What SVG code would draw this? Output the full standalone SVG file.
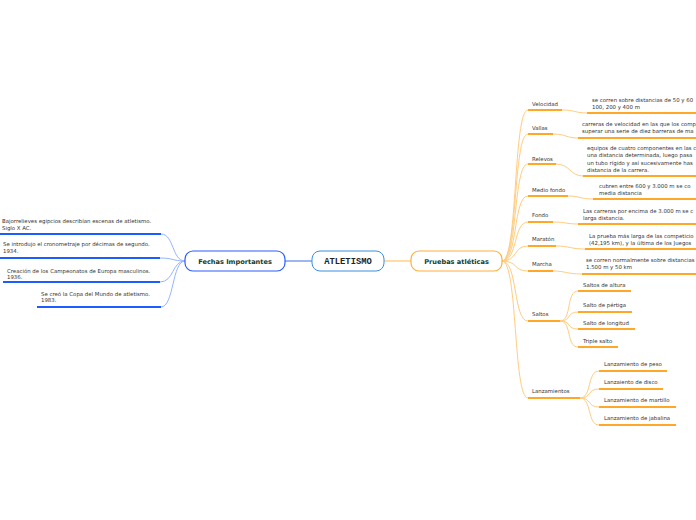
<svg xmlns="http://www.w3.org/2000/svg" width="696" height="520" viewBox="0 0 696 520">
<style>
.t{font-family:"DejaVu Sans",Verdana,sans-serif;font-size:5.4px;fill:#333}
.n{font-family:"DejaVu Sans",Verdana,sans-serif;font-size:6.6px;font-weight:bold;fill:#0f3d2e;text-anchor:middle}
.ou{stroke:#ffa726;stroke-width:2;fill:none}
.oc{stroke:#ffcc80;stroke-width:1;fill:none}
.bu{stroke:#1f5cff;stroke-width:2;fill:none}
.bc{stroke:#94b4ff;stroke-width:1;fill:none}
</style>
<rect width="696" height="520" fill="#fff"/>
<g id="connectors">
<line x1="285" y1="261" x2="312" y2="261" stroke="#3b6fe0" stroke-width="1"/>
<line x1="384" y1="261" x2="411" y2="261" stroke="#ffb84d" stroke-width="1"/>
<path class="bc" d="M185,261 C172,261 174,234 161,234"/>
<path class="bc" d="M185,261 C172,261 174,258 160,258"/>
<path class="bc" d="M185,261 C172,261 174,282 160,282"/>
<path class="bc" d="M185,261 C172,261 174,307 161,307"/>
<path class="oc" d="M502,261 C518,261 513,110 528,110"/>
<path class="oc" d="M502,261 C518,261 513,134 528,134"/>
<path class="oc" d="M502,261 C518,261 513,164 528,164"/>
<path class="oc" d="M502,261 C518,261 513,196 528,196"/>
<path class="oc" d="M502,261 C518,261 513,222 528,222"/>
<path class="oc" d="M502,261 C518,261 513,246 528,246"/>
<path class="oc" d="M502,261 C518,261 513,271 528,271"/>
<path class="oc" d="M502,261 C518,261 513,321 528,321"/>
<path class="oc" d="M502,261 C518,261 513,398 528,398"/>
<path class="oc" d="M562,110 C575,110 575,113 587,113"/>
<path class="oc" d="M553,134 C566,134 566,138 578,138"/>
<path class="oc" d="M556,164 C570,164 570,176 583,176"/>
<path class="oc" d="M568,196 C580,196 580,199 593,199"/>
<path class="oc" d="M553,222 C566,222 566,224 578,224"/>
<path class="oc" d="M556,246 C570,246 570,249 585,249"/>
<path class="oc" d="M553,271 C566,271 566,274 582,274"/>
<path class="oc" d="M560,321 C572,321 566,291 578,291"/>
<path class="oc" d="M560,321 C572,321 566,312 578,312"/>
<path class="oc" d="M560,321 C572,321 566,329 578,329"/>
<path class="oc" d="M560,321 C572,321 566,347 578,347"/>
<path class="oc" d="M580,398 C592,398 587,371 599,371"/>
<path class="oc" d="M580,398 C592,398 587,389 599,389"/>
<path class="oc" d="M580,398 C592,398 587,407 599,407"/>
<path class="oc" d="M580,398 C592,398 587,425 599,425"/>
</g>
<g id="atletismo">
<rect x="312" y="251" width="72" height="20" rx="8" fill="#fff" stroke="#3b8ee0" stroke-width="1"/>
<text x="348" y="264" font-family="'Liberation Mono','Courier New',monospace" font-size="8.8" font-weight="bold" fill="#222" text-anchor="middle">ATLETISMO</text>
</g>
<g id="fechas">
<rect x="185" y="251" width="100" height="20" rx="8" fill="#fff" stroke="#2a5cff" stroke-width="1.2"/>
<text class="n" x="235" y="263.5">Fechas Importantes</text>
</g>
<g id="pruebas">
<rect x="411" y="251" width="91" height="20" rx="8" fill="#fff" stroke="#ffb03a" stroke-width="1.2"/>
<text class="n" x="456.5" y="263.5">Pruebas atléticas</text>
</g>
<g id="f1"><text class="t" x="2" y="223">Bajorrelieves egipcios describían escenas de atletismo.</text><text class="t" x="2" y="229.5">Siglo X AC.</text><path class="bu" d="M0,234 H161"/></g>
<g id="f2"><text class="t" x="3" y="246">Se introdujo el cronometraje por décimas de segundo.</text><text class="t" x="3" y="253">1934.</text><path class="bu" d="M0,258 H160"/></g>
<g id="f3"><text class="t" x="7" y="272.5">Creación de los Campeonatos de Europa masculinos.</text><text class="t" x="7" y="278.5">1936.</text><path class="bu" d="M3,282 H160"/></g>
<g id="f4"><text class="t" x="41" y="295.5">Se creó la Copa del Mundo de atletismo.</text><text class="t" x="41" y="302">1983.</text><path class="bu" d="M37,307 H161"/></g>
<g id="velocidad"><text class="t" x="532" y="106">Velocidad</text><path class="ou" d="M528,110 H562"/></g>
<g id="velocidad-d"><text class="t" x="592" y="102">se corren sobre distancias de 50 y 60</text><text class="t" x="592" y="109">100, 200 y 400 m</text><path class="ou" d="M587,113 H696"/></g>
<g id="vallas"><text class="t" x="532" y="130">Vallas</text><path class="ou" d="M528,134 H553"/></g>
<g id="vallas-d"><text class="t" x="582" y="126">carreras de velocidad en las que los comp</text><text class="t" x="582" y="133">superar una serie de diez barreras de ma</text><path class="ou" d="M578,138 H696"/></g>
<g id="relevos"><text class="t" x="532" y="161">Relevos</text><path class="ou" d="M528,164 H556"/></g>
<g id="relevos-d"><text class="t" x="587" y="150">equipos de cuatro componentes en las c</text><text class="t" x="587" y="157">una distancia determinada, luego pasa</text><text class="t" x="587" y="164.5">un tubo rígido y así sucesivamente has</text><text class="t" x="587" y="172">distancia de la carrera.</text><path class="ou" d="M583,176 H696"/></g>
<g id="mediofondo"><text class="t" x="532" y="192">Medio fondo</text><path class="ou" d="M528,196 H568"/></g>
<g id="mediofondo-d"><text class="t" x="599" y="188">cubren entre 600 y 3.000 m se co</text><text class="t" x="599" y="195">media distancia</text><path class="ou" d="M593,199 H696"/></g>
<g id="fondo"><text class="t" x="532" y="217">Fondo</text><path class="ou" d="M528,222 H553"/></g>
<g id="fondo-d"><text class="t" x="583" y="213">Las carreras por encima de 3.000 m se c</text><text class="t" x="583" y="220">larga distancia.</text><path class="ou" d="M578,224 H696"/></g>
<g id="maraton"><text class="t" x="532" y="241">Maratón</text><path class="ou" d="M528,246 H556"/></g>
<g id="maraton-d"><text class="t" x="589" y="238">La prueba más larga de las competicio</text><text class="t" x="589" y="245">(42,195 km), y la última de los Juegos</text><path class="ou" d="M585,249 H696"/></g>
<g id="marcha"><text class="t" x="532" y="266">Marcha</text><path class="ou" d="M528,271 H553"/></g>
<g id="marcha-d"><text class="t" x="586" y="262">se corren normalmente sobre distancias</text><text class="t" x="586" y="269">1.500 m y 50 km</text><path class="ou" d="M582,274 H696"/></g>
<g id="saltos"><text class="t" x="532" y="316">Saltos</text><path class="ou" d="M528,321 H560"/></g>
<g id="s1"><text class="t" x="583" y="287">Saltos de altura</text><path class="ou" d="M578,291 H631"/></g>
<g id="s2"><text class="t" x="583" y="307">Salto de pértiga</text><path class="ou" d="M578,312 H632"/></g>
<g id="s3"><text class="t" x="583" y="325">Salto de longitud</text><path class="ou" d="M578,329 H635"/></g>
<g id="s4"><text class="t" x="583" y="343">Triple salto</text><path class="ou" d="M578,347 H618"/></g>
<g id="lanzamientos"><text class="t" x="532" y="393">Lanzamientos</text><path class="ou" d="M528,398 H580"/></g>
<g id="l1"><text class="t" x="604" y="366">Lanzamiento de peso</text><path class="ou" d="M599,371 H667"/></g>
<g id="l2"><text class="t" x="604" y="384">Lanzaiento de disco</text><path class="ou" d="M599,389 H663"/></g>
<g id="l3"><text class="t" x="604" y="402">Lanzamiento de martillo</text><path class="ou" d="M599,407 H676"/></g>
<g id="l4"><text class="t" x="604" y="420">Lanzamiento de jabalina</text><path class="ou" d="M599,425 H676"/></g>
</svg>
